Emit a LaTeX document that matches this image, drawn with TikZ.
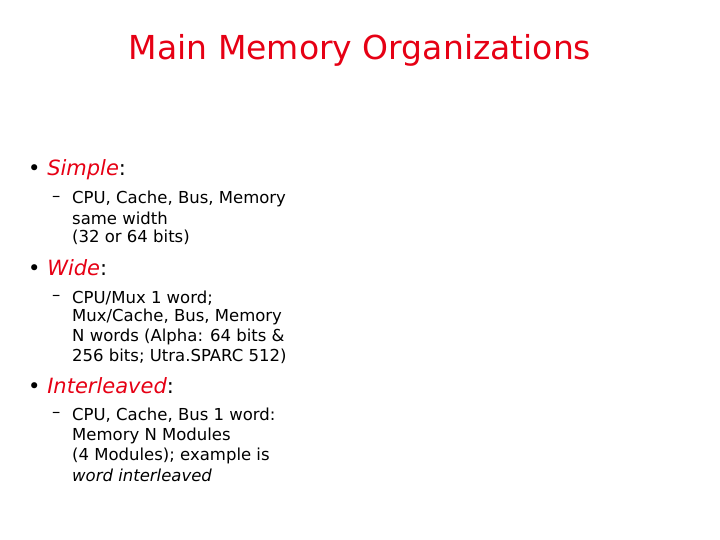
\documentclass[tikz,border=0pt]{standalone}
\usepackage{fontspec}
\setmainfont{DejaVu Sans}
\definecolor{tred}{RGB}{230,0,20}
\begin{document}
\begin{tikzpicture}[x=1pt,y=-1pt,
  txt/.style={anchor=west,inner sep=0pt,font=\fontsize{16.5}{19}\selectfont},
  head/.style={anchor=west,inner sep=0pt,font=\fontsize{21}{24}\selectfont}]
\useasboundingbox (0,0) rectangle (720,540);
\node[inner sep=0pt,text=tred,font=\fontsize{33}{36}\selectfont] (title) at (360,50) {Main Memory Organizations};
\node[head] (b1) at (28,170) {• \textcolor{tred}{\itshape Simple}:};
\node[txt] (s0) at (52,199) {–};
\node[txt] (s1) at (72,199) {CPU, Cache, Bus, Memory};
\node[txt] (s2) at (72,218) {same width};
\node[txt] (s3) at (72,237) {(32 or 64 bits)};
\node[head] (b2) at (28,268) {• \textcolor{tred}{\itshape Wide}:};
\node[txt] (w0) at (52,298) {–};
\node[txt] (w1) at (72,298) {CPU/Mux 1 word;};
\node[txt] (w2) at (72,317) {Mux/Cache, Bus, Memory};
\node[txt] (w3) at (72,337) {N words (Alpha: 64 bits \&};
\node[txt] (w4) at (72,356) {256 bits; Utra.SPARC 512)};
\node[head] (b3) at (28,386) {• \textcolor{tred}{\itshape Interleaved}:};
\node[txt] (i0) at (52,415) {–};
\node[txt] (i1) at (72,415) {CPU, Cache, Bus 1 word:};
\node[txt] (i2) at (72,436) {Memory N Modules};
\node[txt] (i3) at (72,456) {(4 Modules); example is};
\node[txt] (i4) at (72,475) {\itshape word interleaved};
\end{tikzpicture}
\end{document}
